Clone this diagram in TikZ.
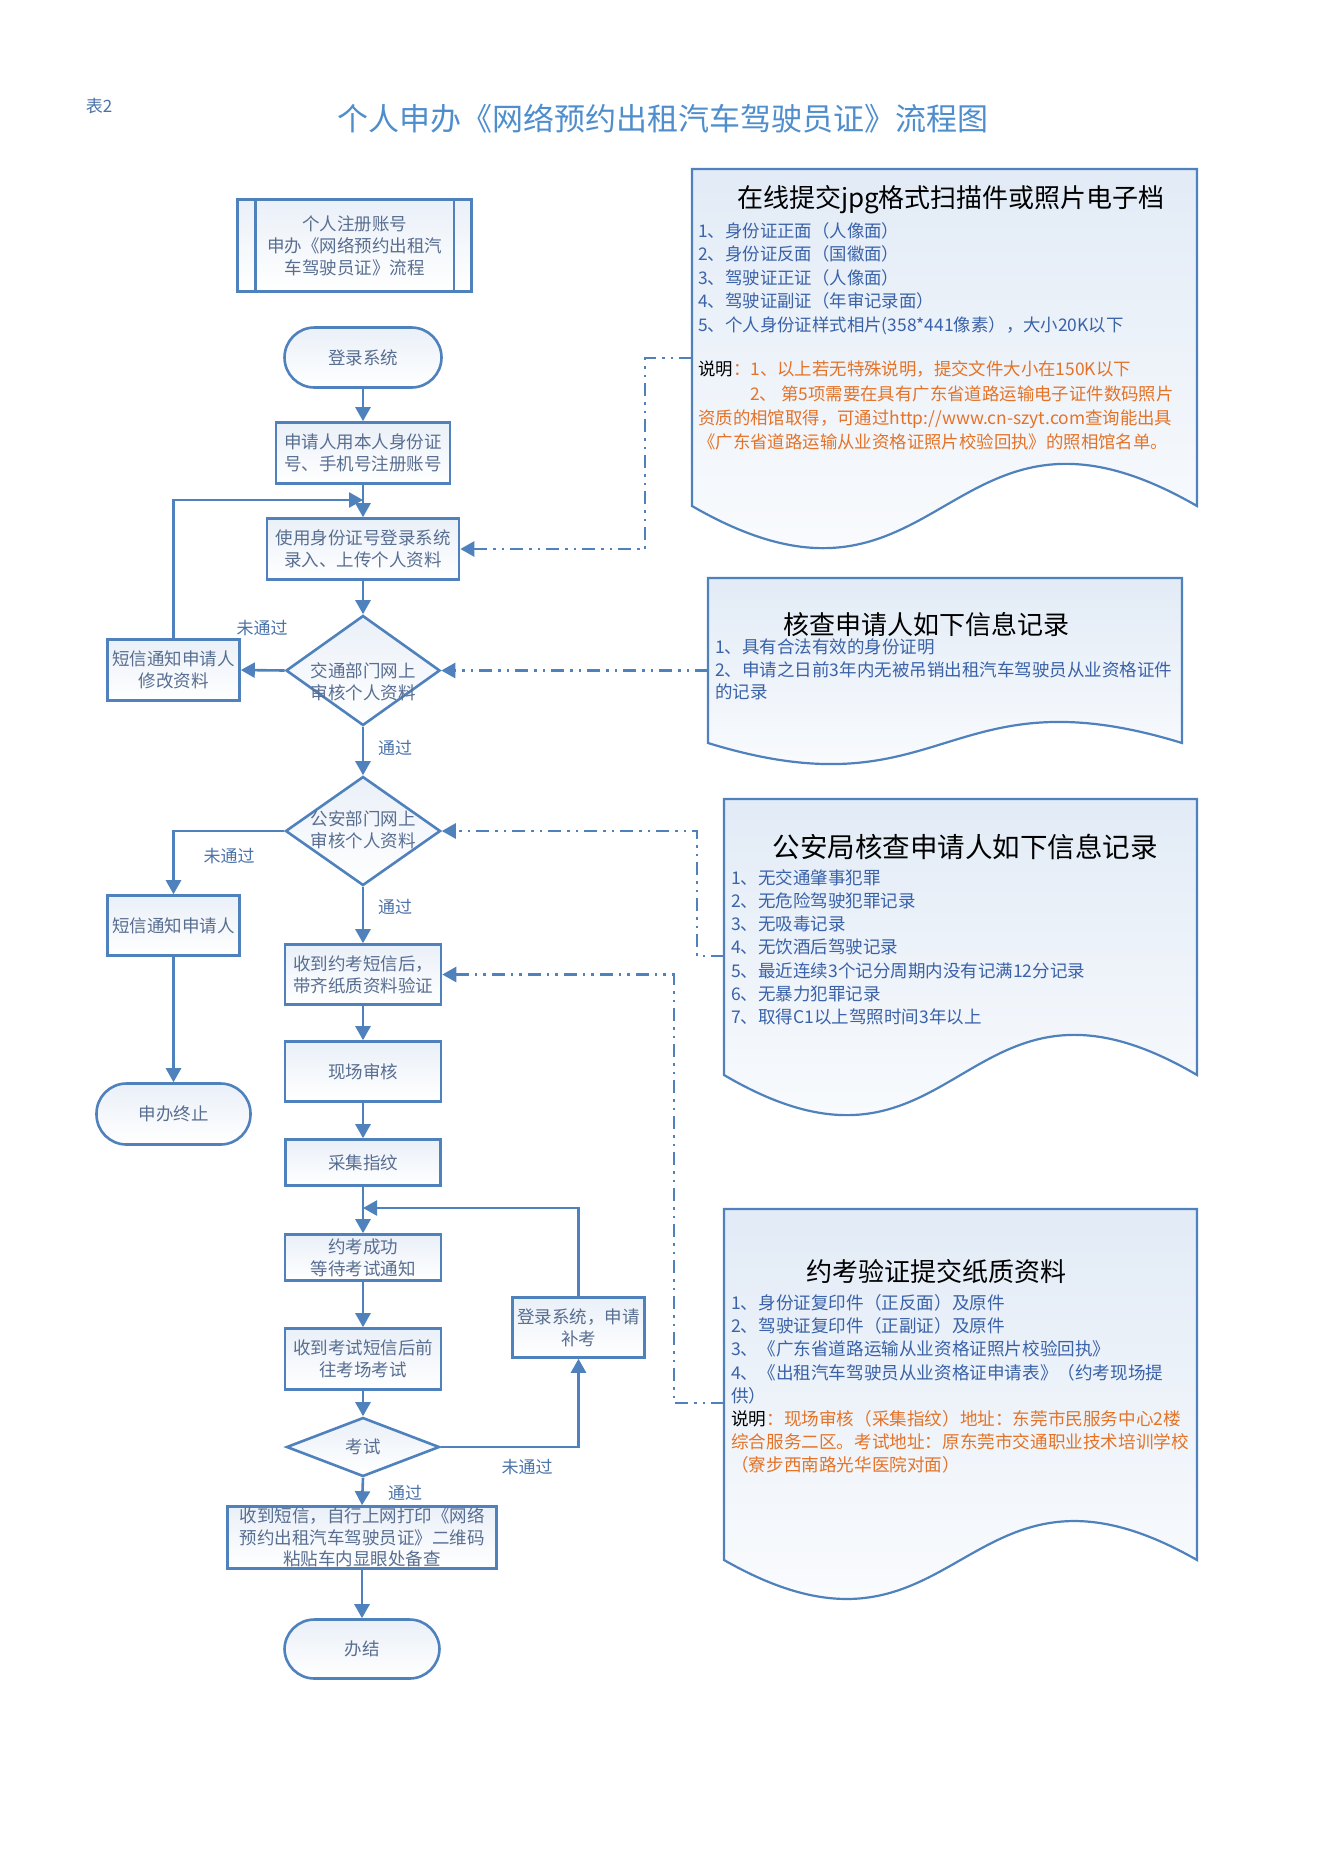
\documentclass[tikz,border=0pt]{standalone}
\usepackage{fontspec}
\usepackage{graphicx}
\setmainfont{Noto Sans CJK SC}
\usetikzlibrary{arrows.meta,shapes.geometric}
\definecolor{lineblue}{RGB}{79,129,189}
\definecolor{ftxt}{RGB}{88,110,145}
\definecolor{lblue}{RGB}{75,115,170}
\definecolor{listblue}{RGB}{58,98,168}
\definecolor{ortxt}{RGB}{228,115,40}
\definecolor{titleblue}{RGB}{79,142,205}
\definecolor{boxfill}{RGB}{234,240,248}
\definecolor{docfill}{RGB}{226,235,246}
\newcommand\fsz[2]{\fontsize{#1}{#2}\selectfont}
% L T R yc k
\newcommand\docshape[5]{%
  \path[docline] (#1,#2) -- (#3,#2) -- (#3,#4) .. controls ({(#1+#3)/2},{#4-#5}) and ({(#1+#3)/2},{#4+#5}) .. (#1,#4) -- cycle;}
\begin{document}
\begin{tikzpicture}[x=1pt,y=-1pt,
  fbox/.style={rectangle, draw=lineblue, line width=2.6pt, top color=boxfill, bottom color=white, text=ftxt, font=\fsz{17.5}{22}, align=center, inner sep=0pt},
  term/.style={fbox, rounded corners=30pt},
  dia/.style={diamond, draw=lineblue, line width=2.6pt, top color=boxfill, bottom color=white, inner sep=0pt},
  dtext/.style={text=ftxt, font=\fsz{17.5}{22}, align=center, inner sep=0pt},
  farrow/.style={draw=lineblue, line width=2.6pt, -{Triangle[width=15pt,length=14pt]}},
  fline/.style={draw=lineblue, line width=2.6pt},
  darrow/.style={farrow, dash pattern=on 13pt off 6pt on 2.5pt off 6pt on 2.5pt off 6pt},
  lbl/.style={text=lblue, font=\fsz{17}{20}, inner sep=0pt},
  docline/.style={draw=lineblue, line width=2.2pt, top color=docfill, bottom color=white},
  doctitle/.style={text=black, inner sep=0pt},
  doclist/.style={anchor=north west, align=left, inner sep=0pt, text=listblue},
]
\fill[white] (0,0) rectangle (1322,1869);
\useasboundingbox (0,0) rectangle (1322,1869);

% titles
\node[text=lblue, font=\fsz{17}{20}, inner sep=0pt] (tab) at (99,106) {表2};
\node[text=titleblue, font=\fsz{31}{34}, inner sep=0pt] (title) at (663,119) {个人申办《网络预约出租汽车驾驶员证》流程图};

% document shapes
\docshape{692}{169}{1197}{506}{146}
\docshape{708}{578}{1182}{743}{73}
\docshape{724}{799}{1197}{1075}{139}
\docshape{724}{1209}{1197}{1560}{135}

% document texts
\node[doctitle, font=\fsz{26}{30}] (t1) at (951,200) {在线提交jpg格式扫描件或照片电子档};
\node[doclist, font=\fsz{17.4}{23.5}] (l1) at (698,222) {1、身份证正面（人像面）\\2、身份证反面（国徽面）\\3、驾驶证正证（人像面）\\4、驾驶证副证（年审记录面）\\5、个人身份证样式相片(358*441像素），大小20K以下};
\node[doclist, text=ortxt, font=\fsz{17.4}{24.3}] (n1) at (698,361) {{\color{black}说明}：1、以上若无特殊说明，提交文件大小在150K以下\\\hspace*{52pt}2、 第5项需要在具有广东省道路运输电子证件数码照片\\资质的相馆取得，可通过http://www.cn-szyt.com查询能出具\\《广东省道路运输从业资格证照片校验回执》的照相馆名单。};

\node[doctitle, font=\fsz{26}{30}] (t2) at (926,625) {核查申请人如下信息记录};
\node[doclist, font=\fsz{17.5}{22.5}] (l2) at (715,639) {1、具有合法有效的身份证明\\2、申请之日前3年内无被吊销出租汽车驾驶员从业资格证件\\的记录};

\node[doctitle, font=\fsz{27.5}{30}] (t3) at (965,847) {公安局核查申请人如下信息记录};
\node[doclist, font=\fsz{17.5}{23.3}] (l3) at (731,869) {1、无交通肇事犯罪\\2、无危险驾驶犯罪记录\\3、无吸毒记录\\4、无饮酒后驾驶记录\\5、最近连续3个记分周期内没有记满12分记录\\6、无暴力犯罪记录\\7、取得C1以上驾照时间3年以上};

\node[doctitle, font=\fsz{26}{30}] (t4) at (936,1272) {约考验证提交纸质资料};
\node[doclist, font=\fsz{17.6}{23.3}] (l4) at (731,1294) {1、身份证复印件（正反面）及原件\\2、驾驶证复印件（正副证）及原件\\3、《广东省道路运输从业资格证照片校验回执》\\4、《出租汽车驾驶员从业资格证申请表》（约考现场提\\供）};
\node[doclist, text=ortxt, font=\fsz{17.6}{23.3}] (n4) at (731,1410) {{\color{black}说明}：现场审核（采集指纹）地址：东莞市民服务中心2楼\\综合服务二区。考试地址：原东莞市交通职业技术培训学校\\（寮步西南路光华医院对面）};

% flow nodes
\node[fbox, minimum width=234pt, minimum height=92pt] (reg) at (354.5,245.5) {个人注册账号\\申办《网络预约出租汽\\车驾驶员证》流程};
\draw[fline] ([xshift=19pt]reg.north west) -- ([xshift=19pt]reg.south west);
\draw[fline] ([xshift=-19pt]reg.north east) -- ([xshift=-19pt]reg.south east);

\node[term, minimum width=157pt, minimum height=60pt] (login) at (363,357.5) {登录系统};
\node[fbox, minimum width=174pt, minimum height=61pt] (apply) at (363,453) {申请人用本人身份证\\号、手机号注册账号};
\node[fbox, minimum width=192pt, minimum height=61pt] (upload) at (363,549) {使用身份证号登录系统\\录入、上传个人资料};
\node[dia, minimum width=154pt, minimum height=110pt] (d1) at (363,670.5) {};
\node[dtext] (d1t) at (363,682) {交通部门网上\\审核个人资料};
\node[fbox, minimum width=132pt, minimum height=61pt] (fix) at (173.5,670) {短信通知申请人\\修改资料};
\node[dia, minimum width=155pt, minimum height=109pt] (d2) at (363,831) {};
\node[dtext] (d2t) at (363,830) {公安部门网上\\审核个人资料};
\node[fbox, minimum width=132pt, minimum height=60pt] (notify) at (173.5,925.5) {短信通知申请人};
\node[term, minimum width=154pt, minimum height=61pt] (stop) at (173.5,1114) {申办终止};
\node[fbox, minimum width=156pt, minimum height=60pt] (verify) at (363,974.5) {收到约考短信后，\\带齐纸质资料验证};
\node[fbox, minimum width=156pt, minimum height=60pt] (onsite) at (363,1071.5) {现场审核};
\node[fbox, minimum width=155pt, minimum height=46pt] (finger) at (363,1162.5) {采集指纹};
\node[fbox, minimum width=156pt, minimum height=46pt] (booked) at (363,1257.5) {约考成功\\等待考试通知};
\node[fbox, minimum width=156pt, minimum height=61pt] (goexam) at (363,1359) {收到考试短信后前\\往考场考试};
\node[dia, minimum width=153pt, minimum height=59pt] (exam) at (363,1447) {};
\node[dtext] (examt) at (363,1447) {考试};
\node[fbox, minimum width=132pt, minimum height=60pt] (retake) at (578.5,1327.5) {登录系统，申请\\补考};
\node[fbox, minimum width=269pt, minimum height=62pt, font=\fsz{17.5}{21.5}] (print) at (362,1537.5) {收到短信，自行上网打印《网络\\预约出租汽车驾驶员证》二维码\\粘贴车内显眼处备查};
\node[term, minimum width=155pt, minimum height=59pt] (done) at (362,1649) {办结};

% junction coordinates
\coordinate (j1) at (363,500);
\coordinate (j2) at (363,1208);
\coordinate (c1) at (692,358);
\coordinate (c2) at (708,670.5);
\coordinate (c3) at (724,956);
\coordinate (c4) at (724,1403);

% flow connectors
\draw[farrow] (login.south) -- (apply.north);
\draw[farrow] (apply.south) -- (upload.north);
\draw[farrow] (fix.north) |- (j1);
\draw[farrow] (upload.south) -- (d1.north);
\draw[farrow] (d1.west) -- (fix.east);
\draw[farrow] (d1.south) -- (d2.north);
\draw[farrow] (d2.west) -| (notify.north);
\draw[farrow] (notify.south) -- (stop.north);
\draw[farrow] (d2.south) -- (verify.north);
\draw[farrow] (verify.south) -- (onsite.north);
\draw[farrow] (onsite.south) -- (finger.north);
\draw[farrow] (finger.south) -- (booked.north);
\draw[farrow] (retake.north) |- (j2);
\draw[farrow] (booked.south) -- (goexam.north);
\draw[farrow] (goexam.south) -- (exam.north);
\draw[farrow] (exam.east) -| (retake.south);
\draw[farrow] (exam.south) -- (print.north);
\draw[farrow] (print.south) -- (done.north);

% dashed connectors from documents
\draw[darrow] (c1) -- ++(-47,0) |- (upload.east);
\draw[darrow] (c2) -- (d1.east);
\draw[darrow] (c3) -- ++(-27,0) |- (d2.east);
\draw[darrow] (c4) -- ++(-50,0) |- (verify.east);

% labels
\node[lbl] (nl1) at (262,628) {未通过};
\node[lbl] (pl1) at (395,748) {通过};
\node[lbl] (nl2) at (229,856) {未通过};
\node[lbl] (pl2) at (395,907) {通过};
\node[lbl] (nl3) at (527,1467) {未通过};
\node[lbl] (pl3) at (405,1493) {通过};
\end{tikzpicture}
\end{document}
